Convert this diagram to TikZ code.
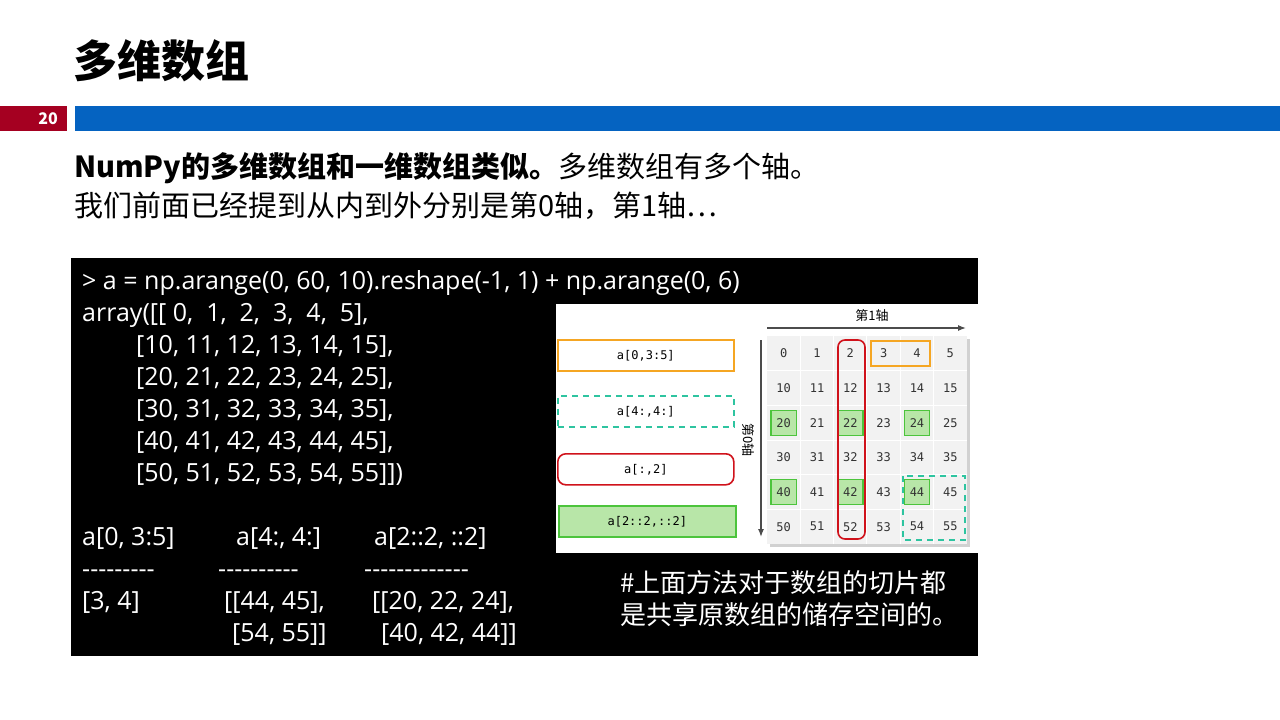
\documentclass[tikz,border=0pt]{standalone}
\usepackage{fontspec}
\usetikzlibrary{arrows.meta}
\setmainfont{Noto Sans CJK SC}
\newfontfamily\cjk{Noto Sans CJK SC}
\newfontfamily\monof{DejaVu Sans Mono}
\newfontfamily\codef{Open Sans}
\definecolor{barblue}{HTML}{0563C1}
\definecolor{barred}{HTML}{A50021}
\definecolor{orng}{HTML}{F5A623}
\definecolor{teal}{HTML}{2EC4A0}
\definecolor{rred}{HTML}{D0121B}
\definecolor{grn}{HTML}{4CC43C}
\definecolor{lgrn}{HTML}{B8E6A8}
\definecolor{cellbg}{HTML}{F2F2F2}
\begin{document}
\begin{tikzpicture}[x=1pt,y=-1pt,
  code/.style={anchor=base west,text=white,font=\codef\fontsize{25}{25}\selectfont,inner sep=0},
  cmt/.style={anchor=base west,text=white,font=\cjk\fontsize{26}{26}\selectfont,inner sep=0},
  cell/.style={font=\monof\fontsize{12}{12}\selectfont,text=black!80},
  lbox/.style={minimum width=176pt,minimum height=31pt,inner sep=0,font=\monof\fontsize{12}{12}\selectfont}]
\useasboundingbox (0,0) rectangle (1280,720);
\fill[white] (0,0) rectangle (1280,720);
\node[anchor=base west,inner sep=0,font=\cjk\bfseries\fontsize{44}{44}\selectfont] (title) at (73,77) {多维数组};
\fill[barred] (0,106) rectangle (67,131);
\node[text=white,font=\bfseries\fontsize{16}{16}\selectfont] (pg) at (48,118.5) {20};
\fill[barblue] (75,106) rectangle (1280,131);
\node[anchor=base west,inner sep=0,font=\cjk\fontsize{29}{29}\selectfont] (l1) at (74,177) {\textbf{NumPy的多维数组和一维数组类似。}多维数组有多个轴。};
\node[anchor=base west,inner sep=0,font=\cjk\fontsize{29}{29}\selectfont] (l2) at (74,216) {我们前面已经提到从内到外分别是第0轴，第1轴…};
\fill[black] (71,258) rectangle (978,656);
\node[code] (c0) at (82,289) {> a = np.arange(0, 60, 10).reshape(-1, 1) + np.arange(0, 6)};
\node[code] (c1) at (82,321) {array([[ 0,\ \ 1,\ \ 2,\ \ 3,\ \ 4,\ \ 5],};
\node[code] (c2) at (136,353) {[10, 11, 12, 13, 14, 15],};
\node[code] (c3) at (136,385) {[20, 21, 22, 23, 24, 25],};
\node[code] (c4) at (136,417) {[30, 31, 32, 33, 34, 35],};
\node[code] (c5) at (136,449) {[40, 41, 42, 43, 44, 45],};
\node[code] (c6) at (136,481) {[50, 51, 52, 53, 54, 55]])};
\node[code] (d1) at (82,545) {a[0, 3:5]};
\node[code] (d2) at (236,545) {a[4:, 4:]};
\node[code] (d3) at (374,545) {a[2::2, ::2]};
\node[code] (e1) at (82,577) {---------};
\node[code] (e2) at (218,577) {----------};
\node[code] (e3) at (364,577) {-------------};
\node[code] (f1) at (82,609) {[3, 4]};
\node[code] (f2) at (224,609) {[[44, 45],};
\node[code] (f3) at (372,609) {[[20, 22, 24],};
\node[code] (g2) at (232,641) {[54, 55]]};
\node[code] (g3) at (381,641) {[40, 42, 44]]};
\node[cmt] (m1) at (620,592) {\#上面方法对于数组的切片都};
\node[cmt] (m2) at (620,624) {是共享原数组的储存空间的。};
% panel
\fill[white] (556,304) rectangle (978,553);
\fill[black!18] (770,339) rectangle (970,547);
\fill[cellbg] (767,336) rectangle (967,544);
\foreach \i in {1,...,5} {
  \draw[white,line width=1pt] ({767+\i*33.33},336) -- ({767+\i*33.33},544);
  \draw[white,line width=1pt] (767,{336+\i*34.67}) -- (967,{336+\i*34.67});
}
% highlights
\foreach \c/\r in {0/2,2/2,4/2,0/4,2/4,4/4} {
  \draw[grn,fill=lgrn,line width=1.6pt] ({767+\c*33.33+4},{336+\r*34.67+5}) rectangle ({767+\c*33.33+29.3},{336+\r*34.67+30});
}
\foreach \r in {0,...,5} {
  \foreach \c in {0,...,5} {
    \pgfmathtruncatemacro{\v}{\r*10+\c}
    \node[cell] (n\r\c) at ({767+\c*33.33+16.67},{336+\r*34.67+17.3}) {\v};
  }
}
\draw[orng,line width=1.6pt] (871,341) rectangle (930,366);
\draw[rred,line width=1.6pt,rounded corners=7pt] (838,340) rectangle (865,539);
\draw[teal,line width=1.6pt,dash pattern=on 6pt off 5pt] (903,476) rectangle (965,540);
% axes
\coordinate (ax1s) at (767,328); \coordinate (ax1e) at (966,328);
\draw[black!70,line width=1.3pt,-{Latex[length=8pt]}] (ax1s) -- (ax1e);
\node[font=\cjk\fontsize{13}{13}\selectfont] (ax1) at (872,316) {第1轴};
\coordinate (ax0s) at (761,340); \coordinate (ax0e) at (761,537);
\draw[black!70,line width=1.3pt,-{Latex[length=8pt]}] (ax0s) -- (ax0e);
\node[font=\cjk\fontsize{13}{13}\selectfont,rotate=-90] (ax0) at (748,440) {第0轴};
% left boxes
\node[lbox,draw=orng,line width=1.6pt,anchor=north west] (b1) at (557,339) {a[0,3:5]};
\node[lbox,draw=teal,line width=1.6pt,dash pattern=on 6pt off 5pt,anchor=north west] (b2) at (557,395) {a[4:,4:]};
\node[lbox,draw=rred,line width=1.6pt,rounded corners=8pt,anchor=north west] (b3) at (557,453) {a[:,2]};
\node[lbox,draw=grn,fill=lgrn,line width=1.6pt,anchor=north west,minimum width=177pt] (b4) at (558,505) {a[2::2,::2]};
\end{tikzpicture}
\end{document}
